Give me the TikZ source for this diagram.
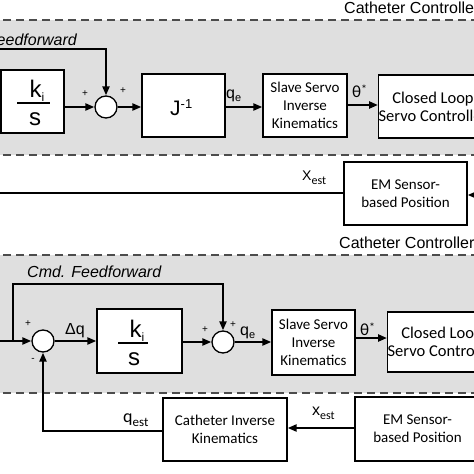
\documentclass[tikz,border=0pt]{standalone}
\usepackage{fontspec}
\setmainfont{Liberation Sans}
\newfontfamily\calib{Carlito}
\usetikzlibrary{arrows.meta}
\begin{document}
\begin{tikzpicture}[x=1pt,y=-1pt,
 blk/.style={draw,line width=1.3pt,fill=white,inner sep=0pt},
 sumc/.style={circle,draw,line width=1.3pt,fill=white,minimum size=22pt,inner sep=0pt},
 conn/.style={line width=2.2pt},
 arr/.style={line width=2.2pt,-{Triangle[length=9pt,width=7pt]}},
 btxt/.style={font=\calib\fontsize{15}{18}\selectfont,align=center},
 cltxt/.style={font=\calib\fontsize{16.5}{18}\selectfont,align=center},
 zone/.style={fill=gray!25},
 zoneline/.style={draw=gray!60!black,line width=1.2pt,dash pattern=on 8pt off 5pt},
 lbl/.style={font=\fontsize{16}{16}\selectfont,inner sep=0pt,anchor=base west},
 sgn/.style={font=\fontsize{10}{10}\selectfont,inner sep=0pt},
 ttl/.style={font=\fontsize{16}{16}\selectfont,inner sep=0pt,anchor=base west},
 ff/.style={font=\itshape\fontsize{16}{16}\selectfont,inner sep=0pt},
 big/.style={font=\fontsize{24}{24}\selectfont,inner sep=0pt,anchor=base},
]
\useasboundingbox (0,0) rectangle (474,474);
\clip (0,0) rectangle (474,474);

% ---------- zones ----------
\fill[zone] (-10,20) rectangle (490,155);
\draw[zoneline] (-10,20) -- (490,20);
\draw[zoneline] (-10,155) -- (490,155);
\fill[zone] (-10,255) rectangle (490,393);
\draw[zoneline] (-10,255) -- (490,255);
\draw[zoneline] (-10,393) -- (490,393);

\node[ttl] (t1) at (344,13) {Catheter Controller};
\node[ttl] (t2) at (339,248) {Catheter Controller};

% ---------- top system ----------
\node[ff,anchor=base east] (ff1) at (77,45) {Cmd. Feedforward};
\node[blk,minimum width=63pt,minimum height=63pt] (ks1) at (32.5,101.5) {};
\node[big] (k1) at (37,97) {k\raisebox{-4pt}{\fontsize{12}{12}\selectfont i}};
\draw[line width=1.2pt] (17,103) -- (50,103);
\node[big] (s1) at (35,125) {s};
\node[sumc] (sum1) at (106,107) {};
\node[blk,minimum width=83pt,minimum height=63pt] (J) at (183.5,105.5) {};
\node[font=\fontsize{21}{21}\selectfont,inner sep=0pt,anchor=base west] (Jt) at (170,115) {J\raisebox{7pt}{\fontsize{13}{13}\selectfont -1}};
\node[blk,btxt,minimum width=84pt,minimum height=63pt] (slave1) at (305,105.5) {Slave Servo\\Inverse\\Kinematics};
\node[blk,cltxt,minimum width=98pt,minimum height=63pt] (cl1) at (433,106.5) {Closed Loop\\Servo Controller};
\node[blk,btxt,minimum width=123pt,minimum height=63pt] (em1) at (405.5,193.5) {EM Sensor-\\based Position};

\coordinate (ffin1) at (-10,49);
\draw[arr] (ffin1) -- (ffin1 -| sum1) -- (sum1.north);
\draw[arr] (ks1.east |- sum1) -- (sum1.west);
\draw[arr] (sum1.east) -- (sum1.east -| J.west);
\draw[arr] (J.east |- sum1) -- (sum1 -| slave1.west);
\draw[arr] (slave1.east |- 0,105) -- (cl1.west |- 0,105);
\coordinate (fb1) at (-10,193);
\draw[conn] (em1.west |- fb1) -- (fb1);
\coordinate (in1) at (495,195);
\draw[arr] (in1) -- (in1 -| em1.east);

\node[sgn] (p1) at (85,94) {+};
\node[sgn] (p2) at (123,91) {+};
\node[lbl] (qe1) at (226,98) {q\raisebox{-3pt}{\fontsize{11}{11}\selectfont e}};
\node[lbl,font=\calib\fontsize{17}{17}\selectfont] (th1) at (352,97) {θ\raisebox{4pt}{\fontsize{12}{12}\selectfont *}};
\node[lbl,font=\fontsize{14}{14}\selectfont] (xe1) at (302,180) {X\raisebox{-4pt}{\calib\fontsize{12}{12}\selectfont est}};

% ---------- bottom system ----------
\node[ff,anchor=base west] (ff2) at (27,277) {Cmd. Feedforward};
\node[sumc] (sum2a) at (43,341) {};
\node[blk,minimum width=85pt,minimum height=64pt] (ks2) at (139.5,341) {};
\node[big] (k2) at (137,337) {k\raisebox{-4pt}{\fontsize{12}{12}\selectfont i}};
\draw[line width=1.2pt] (118,343) -- (148,343);
\node[big] (s2) at (134,365) {s};
\node[sumc] (sum2b) at (223,342) {};
\node[blk,btxt,minimum width=83pt,minimum height=65pt] (slave2) at (313.5,342.5) {Slave Servo\\Inverse\\Kinematics};
\node[blk,cltxt,minimum width=100pt,minimum height=60pt] (cl2) at (442,342) {Closed Loop\\Servo Controller};
\node[blk,btxt,minimum width=124pt,minimum height=63pt] (cinv) at (225,429.5) {Catheter Inverse\\Kinematics};
\node[blk,btxt,minimum width=125pt,minimum height=64pt] (em2) at (417.5,429) {EM Sensor-\\based Position};

\coordinate (in2) at (-10,341);
\coordinate (j2) at (13,341);
\coordinate (ffc2) at (13,284);
\draw[arr] (in2) -- (sum2a.west);
\draw[arr] (j2) -- (ffc2) -- (ffc2 -| sum2b) -- (sum2b.north);
\draw[arr] (sum2a.east) -- (sum2a.east -| ks2.west);
\draw[arr] (ks2.east |- sum2b) -- (sum2b.west);
\draw[arr] (sum2b.east) -- (sum2b.east -| slave2.west);
\draw[arr] (slave2.east |- 0,338) -- (cl2.west |- 0,338);
\draw[arr] (em2.west |- 0,428) -- (cinv.east |- 0,428);
\coordinate (fb2) at (43,431);
\draw[arr] (cinv.west |- fb2) -- (fb2) -- (sum2a.south);

\node[sgn] (p3) at (28,324) {+};
\node[sgn] (m3) at (33,360) {-};
\node[sgn] (p4) at (205,330) {+};
\node[sgn] (p5) at (233,325) {+};
\node[lbl] (dq) at (65,334) {Δq};
\node[lbl] (qe2) at (240,335) {q\raisebox{-3pt}{\fontsize{11}{11}\selectfont e}};
\node[lbl,font=\calib\fontsize{17}{17}\selectfont] (th2) at (360,335) {θ\raisebox{4pt}{\fontsize{12}{12}\selectfont *}};
\node[lbl] (xe2) at (312,415) {x\raisebox{-4pt}{\calib\fontsize{12}{12}\selectfont est}};
\node[lbl,font=\calib\fontsize{18}{18}\selectfont] (qest) at (123,422) {q\raisebox{-4pt}{\fontsize{13}{13}\selectfont est}};
\end{tikzpicture}
\end{document}
